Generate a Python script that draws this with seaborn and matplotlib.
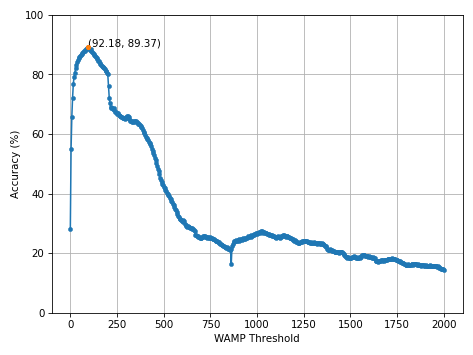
import numpy as np
import pandas as pd
import matplotlib
matplotlib.use("Agg")
import matplotlib.pyplot as plt
import seaborn as sns

# WAMP thresholds: 500 evenly spaced values from 0 to 2000
threshold_start = 0
threshold_end = 2000

accuracy = [
    28.2, 55.1, 65.8, 72.2, 76.8, 79.2, 80.6, 82.0, 83.1, 84.3, 84.8, 85.4, 85.7, 86.2, 86.4, 86.9, 87.1, 87.4, 87.8, 88.0, 88.3, 88.6, 88.9, 89.37, 88.9,
    88.7, 88.2, 88.4, 87.9, 87.6, 87.2, 86.9, 86.5, 86.1, 85.9, 85.4, 85.1, 84.6, 84.4, 84.0, 83.6, 83.3, 83.0, 82.6, 82.4, 82.0, 81.7, 81.3, 81.0, 80.5,
    80.1, 76.0, 72.1, 70.3, 69.0, 68.6, 68.8, 68.4, 68.6, 67.9, 67.5, 67.3, 67.0, 66.8, 66.9, 66.4, 66.2, 65.9, 65.7, 65.8, 65.5, 65.3, 65.4, 65.1, 65.2,
    65.6, 65.9, 66.0, 65.7, 65.0, 64.5, 64.2, 64.1, 64.3, 64.0, 64.2, 64.4, 64.1, 64.3, 64.0, 63.7, 63.5, 63.3, 63.0, 62.8, 62.4, 62.0, 61.4, 60.8, 60.2,
    59.6, 59.0, 58.6, 58.2, 57.9, 57.4, 57.0, 56.5, 55.8, 55.0, 54.3, 53.5, 52.8, 52.0, 51.2, 50.3, 49.3, 48.2, 47.4, 46.5, 45.3, 44.6, 44.0, 43.3, 42.8,
    42.3, 41.8, 41.3, 40.8, 40.3, 39.9, 39.4, 39.0, 38.5, 38.1, 37.6, 37.0, 36.6, 36.1, 35.5, 34.9, 34.3, 33.8, 33.2, 32.6, 32.0, 31.6, 31.3, 31.1, 30.8,
    31.0, 30.4, 30.6, 29.8, 29.4, 29.2, 28.9, 29.0, 28.6, 28.7, 28.4, 28.5, 28.2, 28.3, 28.0, 27.9, 27.4, 26.2, 25.9, 25.7, 25.8, 25.4, 25.5, 25.1, 24.9,
    25.1, 25.3, 25.6, 25.4, 25.7, 25.6, 25.5, 25.2, 25.4, 25.3, 25.1, 25.3, 25.2, 24.9, 25.1, 24.8, 24.6, 24.7, 24.3, 24.1, 24.2, 23.9, 23.6, 23.7, 23.3,
    23.1, 23.0, 22.8, 22.6, 22.5, 22.3, 22.1, 22.0, 21.8, 21.9, 21.6, 21.4, 21.3, 21.1, 21.5, 16.4, 22.3, 23.0, 23.6, 23.9, 24.2, 24.0, 24.3, 24.1, 24.4,
    24.2, 24.6, 24.5, 24.8, 24.5, 24.7, 24.9, 24.6, 25.0, 24.8, 25.2, 25.0, 25.4, 25.6, 25.3, 25.7, 25.5, 25.9, 25.8, 26.2, 26.0, 26.4, 26.3, 26.6, 26.5,
    26.8, 26.7, 27.0, 26.9, 27.2, 27.4, 27.3, 27.1, 26.8, 27.0, 26.7, 26.6, 26.8, 26.5, 26.3, 26.5, 26.2, 26.0, 26.1, 25.8, 25.9, 25.6, 25.7, 25.4, 25.3,
    25.2, 25.4, 25.3, 25.6, 25.4, 25.2, 25.5, 25.7, 25.6, 25.9, 25.8, 26.0, 25.7, 25.5, 25.8, 25.6, 25.3, 25.4, 25.1, 25.2, 24.9, 24.6, 24.8, 24.4, 24.2,
    24.3, 24.0, 23.8, 23.6, 23.4, 23.3, 23.5, 23.6, 23.8, 23.7, 24.0, 23.9, 24.2, 24.1, 24.2, 23.9, 24.0, 23.8, 23.6, 23.7, 23.4, 23.6, 23.3, 23.5, 23.4,
    23.6, 23.3, 23.5, 23.4, 23.2, 23.4, 23.3, 23.5, 23.2, 23.4, 23.1, 23.3, 23.0, 22.9, 22.6, 22.5, 22.3, 21.9, 21.2, 20.9, 21.1, 21.0, 21.2, 20.9, 21.0,
    20.7, 20.8, 20.6, 20.4, 20.5, 20.3, 20.4, 20.2, 20.3, 20.1, 20.4, 20.3, 20.2, 20.4, 20.1, 19.8, 19.5, 19.1, 18.8, 18.6, 18.4, 18.6, 18.5, 18.3, 18.5,
    18.4, 18.6, 18.8, 18.7, 18.9, 18.7, 18.5, 18.6, 18.4, 18.5, 18.3, 18.6, 18.5, 18.8, 19.0, 19.3, 19.4, 19.2, 19.3, 19.0, 19.1, 18.9, 19.0, 18.8, 18.9,
    18.7, 18.6, 18.7, 18.5, 18.6, 18.4, 18.5, 18.2, 17.4, 17.2, 17.3, 17.1, 17.3, 17.2, 17.4, 17.5, 17.3, 17.5, 17.6, 17.4, 17.7, 17.6, 17.8, 17.7, 17.9,
    18.0, 17.9, 18.1, 17.9, 18.0, 18.2, 18.0, 18.1, 17.9, 18.1, 17.8, 17.7, 17.5, 17.4, 17.2, 17.3, 17.0, 16.9, 16.7, 16.6, 16.5, 16.3, 16.2, 16.0, 16.1,
    16.0, 16.2, 16.1, 15.9, 16.1, 16.0, 16.2, 16.3, 16.1, 16.4, 16.3, 16.2, 16.4, 16.1, 16.0, 16.2, 15.9, 16.1, 16.0, 15.8, 16.0, 15.9, 15.7, 16.0, 15.8,
    15.9, 15.7, 15.8, 15.6, 15.8, 15.7, 15.9, 15.6, 15.8, 15.7, 15.5, 15.7, 15.6, 15.8, 15.5, 15.4, 15.5, 15.2, 15.1, 15.0, 14.8, 14.6, 14.5, 14.6, 14.4,
]

thresholds = np.linspace(threshold_start, threshold_end, len(accuracy))
df = pd.DataFrame({"WAMP Threshold": thresholds, "Accuracy (%)": accuracy})

fig, ax = plt.subplots(figsize=(6.4, 4.8), dpi=74)
sns.lineplot(data=df, x="WAMP Threshold", y="Accuracy (%)", ax=ax,
             color="#1f77b4", marker="o", markersize=4,
             markeredgecolor="#1f77b4", markeredgewidth=0.5, linewidth=1.5)

best = df["Accuracy (%)"].idxmax()
bx = df.loc[best, "WAMP Threshold"]
by = df.loc[best, "Accuracy (%)"]
ax.plot([bx], [by], "o", color="#ff7f0e", markersize=4, zorder=5)
ax.text(bx, by, f"({bx:.2f}, {by:.2f})", fontsize=10)

ax.set_ylim(0, 100)
ax.set_xlabel("WAMP Threshold")
ax.set_ylabel("Accuracy (%)")
ax.grid(True)
fig.tight_layout()
fig.savefig("out.png", dpi=74)
